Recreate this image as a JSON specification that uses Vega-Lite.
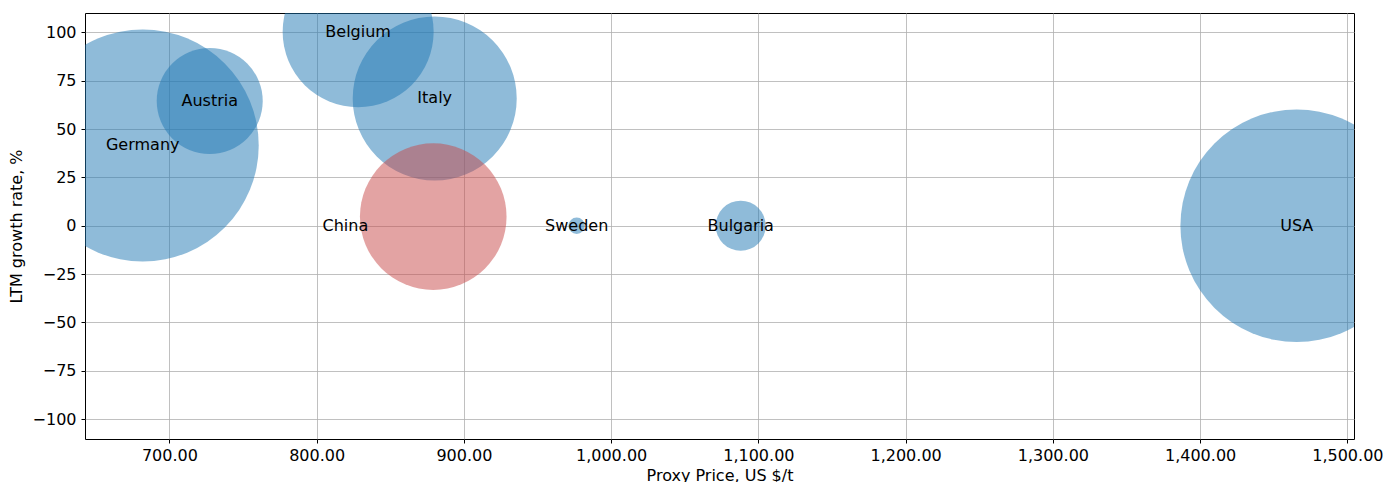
{
  "$schema": "https://vega.github.io/schema/vega-lite/v6.json",
  "width": 1269,
  "height": 426,
  "autosize": {"type": "none"},
  "padding": {"left": 85, "top": 13, "right": 32, "bottom": 43},
  "background": "white",
  "config": {
    "font": "DejaVu Sans",
    "view": {"stroke": "black", "strokeWidth": 1},
    "axis": {
      "domain": false,
      "grid": true,
      "gridColor": "#b0b0b0",
      "gridWidth": 0.8,
      "tickColor": "black",
      "tickSize": 4,
      "labelColor": "black",
      "labelFont": "DejaVu Sans",
      "labelFontSize": 16,
      "titleFont": "DejaVu Sans",
      "titleFontSize": 16,
      "titleFontWeight": "normal",
      "titleColor": "black"
    }
  },
  "data": {
    "values": [
      {"country": "Germany", "price": 681.9, "growth": 41.5, "volume": 53824, "group": "other", "label_price": 681.9, "label_growth": 41.5},
      {"country": "Austria", "price": 727.4, "growth": 64.5, "volume": 11236, "group": "other", "label_price": 727.4, "label_growth": 64.5},
      {"country": "Belgium", "price": 828.2, "growth": 100.3, "volume": 22801, "group": "other", "label_price": 828.2, "label_growth": 100.3},
      {"country": "Italy", "price": 880.2, "growth": 65.8, "volume": 26896, "group": "other", "label_price": 880.2, "label_growth": 65.8},
      {"country": "China", "price": 879.2, "growth": 4.7, "volume": 21492, "group": "focus", "label_price": 819.5, "label_growth": 0},
      {"country": "Sweden", "price": 976.6, "growth": 0, "volume": 269, "group": "other", "label_price": 976.6, "label_growth": 0},
      {"country": "Bulgaria", "price": 1088, "growth": 0, "volume": 2500, "group": "other", "label_price": 1088, "label_growth": 0},
      {"country": "USA", "price": 1465.6, "growth": 0, "volume": 54103, "group": "other", "label_price": 1465.6, "label_growth": 0}
    ]
  },
  "layer": [
    {
      "mark": {"type": "point", "shape": "circle", "filled": true, "opacity": 0.5, "strokeWidth": 0, "clip": true},
      "encoding": {
        "x": {
          "field": "price", "type": "quantitative",
          "scale": {"domain": [642.7, 1504.5], "nice": false, "zero": false},
          "axis": {"values": [700, 800, 900, 1000, 1100, 1200, 1300, 1400, 1500], "format": ",.2f", "labelPadding": 4, "titlePadding": 4, "title": "Proxy Price, US $/t"}
        },
        "y": {
          "field": "growth", "type": "quantitative",
          "scale": {"domain": [-110.3, 110], "nice": false, "zero": false},
          "axis": {"values": [-100, -75, -50, -25, 0, 25, 50, 75, 100], "labelPadding": 5, "titlePadding": 8, "title": "LTM growth rate, %"}
        },
        "size": {"field": "volume", "type": "quantitative", "scale": null, "legend": null},
        "color": {"field": "group", "type": "nominal", "scale": {"domain": ["other", "focus"], "range": ["#1f77b4", "#c74747"]}, "legend": null}
      }
    },
    {
      "mark": {"type": "text", "font": "DejaVu Sans", "fontSize": 16, "color": "black", "align": "center", "baseline": "middle", "clip": true},
      "encoding": {
        "x": {"field": "label_price", "type": "quantitative"},
        "y": {"field": "label_growth", "type": "quantitative"},
        "text": {"field": "country", "type": "nominal"}
      }
    }
  ]
}
